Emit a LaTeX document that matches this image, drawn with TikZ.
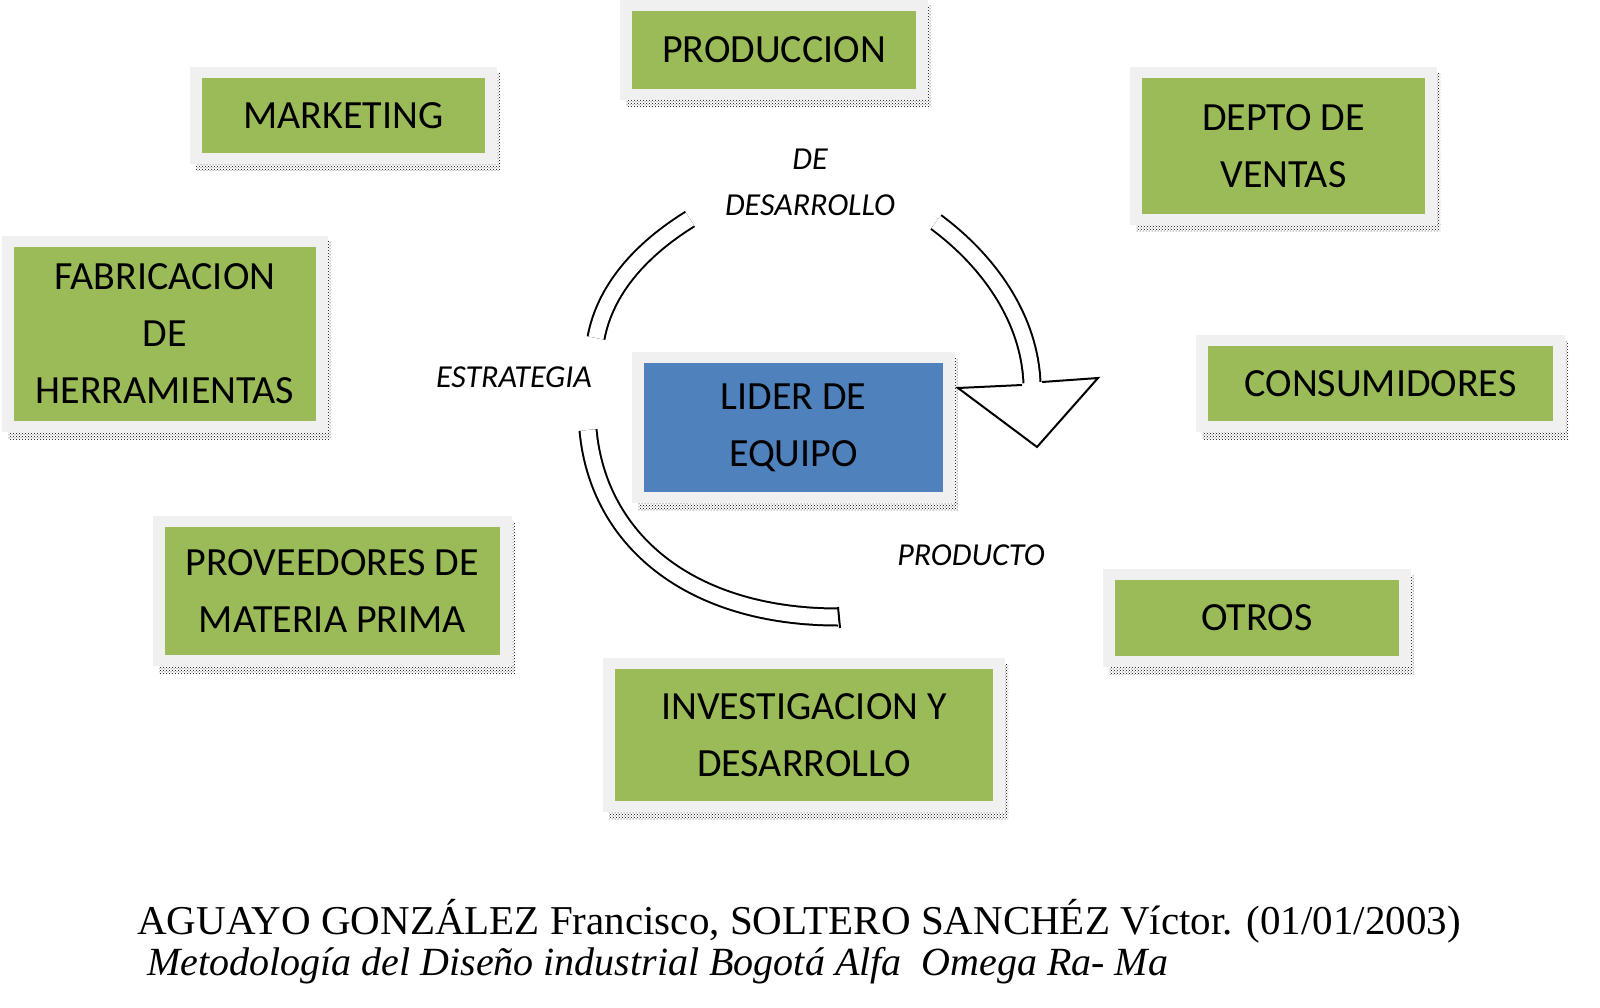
\documentclass[tikz,border=0pt]{standalone}
\usepackage{fontspec}
\setmainfont{Carlito}
\newfontfamily\serifc{Liberation Serif}
\usetikzlibrary{patterns}
\definecolor{gr}{HTML}{9BBB59}
\definecolor{bl}{HTML}{4F81BD}
\definecolor{frm}{HTML}{F0F0F0}
\newcommand{\bx}[8]{%
 \fill[pattern=crosshatch dots,pattern color=black] (#2+6,#5) rectangle (#4+3,#5+7);
 \fill[pattern=crosshatch dots,pattern color=black] (#4,#3+6) rectangle (#4+3,#5);
 \fill[frm] (#2,#3) rectangle (#4,#5);
 \node[box,fill=#6,minimum width={#8-#2-24},minimum height={#5-#3-22}] (#1) at ({(#2+#8)/2},{(#3+#5)/2}) {#7};
}
\tikzset{box/.style={inner sep=0pt,align=center,font=\fontsize{40}{57}\selectfont},
 lab/.style={align=center,font=\fontsize{32}{46}\selectfont\itshape},
 band/.style={double=white,double distance=15pt,line width=2pt}}
\begin{document}
\begin{tikzpicture}[x=1pt,y=-1pt]
\useasboundingbox[fill=white] (0,0) rectangle (1600,1008);
\bx{prod}{620}{0}{928}{100}{gr}{PRODUCCION}{928}
\bx{mkt}{190}{67}{497}{164}{gr}{MARKETING}{497}
\bx{depto}{1130}{67}{1437}{225}{gr}{DEPTO DE\\VENTAS}{1437}
\bx{fab}{2}{236}{328}{432}{gr}{FABRICACION\\DE\\HERRAMIENTAS}{328}
\bx{cons}{1196}{335}{1565}{432}{gr}{CONSUMIDORES}{1565}
\bx{lider}{632}{352}{955}{503}{bl}{LIDER DE\\EQUIPO}{955}
\bx{prov}{153}{516}{512}{666}{gr}{PROVEEDORES DE\\MATERIA PRIMA}{512}
\bx{otros}{1103}{569}{1411}{667}{gr}{OTROS}{1411}
\bx{inv}{603}{658}{1005}{812}{gr}{INVESTIGACION Y\\DESARROLLO}{1005}
% circular arrow
\coordinate (a1) at (690,219);
\coordinate (a2) at (596,338);
\draw[band] (a1) .. controls (640,250) and (605,290) .. (a2);
\coordinate (b1) at (936,222);
\coordinate (b2) at (1032,384);
\draw[band] (b1) .. controls (990,262) and (1030,320) .. (b2);
\fill[white] (958,388) -- (1098,378) -- (1037,447) -- cycle;
\draw[line width=2pt,line join=miter] (1022,385) -- (958,388) -- (1037,447) -- (1098,378) -- (1042,382);
\coordinate (c1) at (588,430);
\coordinate (c2) at (838,617);
\draw[band] (c1) .. controls (598,540) and (690,617) .. (c2);
\draw[line width=2pt] (838,607) -- (840,628);
\node[lab] (dd) at (810,182) {DE\\DESARROLLO};
\node[lab] (est) at (514,377) {ESTRATEGIA};
\node[lab] (pr) at (971,555) {PRODUCTO};
\node[anchor=west,font=\serifc\fontsize{41}{44}\selectfont,inner sep=0pt] (c1t) at (137,921) {AGUAYO GONZÁLEZ Francisco, SOLTERO SANCHÉZ Víctor. (01/01/2003)};
\node[anchor=west,font=\serifc\itshape\fontsize{40}{44}\selectfont,inner sep=0pt] (c2t) at (147,966) {Metodología del Diseño industrial Bogotá Alfa\ \ Omega Ra- Ma};
\end{tikzpicture}
\end{document}
